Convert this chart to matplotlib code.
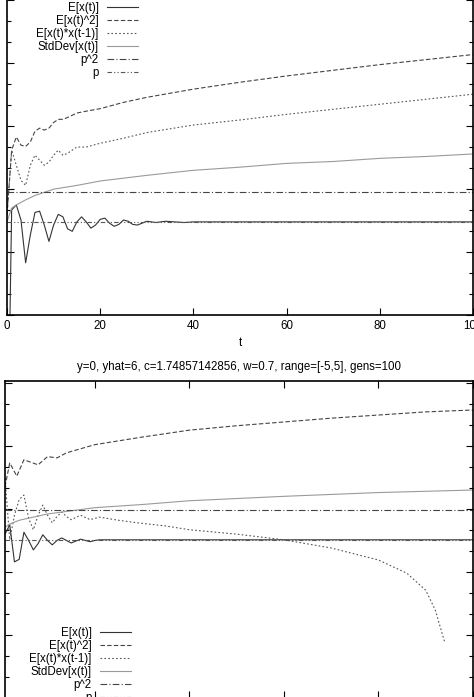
import matplotlib
matplotlib.use("Agg")
import matplotlib.pyplot as plt
from matplotlib.ticker import MultipleLocator

plt.rcParams["font.family"] = ["Liberation Sans", "DejaVu Sans"]
plt.rcParams["font.size"] = 8.3

labels = ["E[x(t)]", "E[x(t)^2]", "E[x(t)*x(t-1)]", "StdDev[x(t)]", "p^2", "p"]
colors = ["#333333", "#444444", "#555555", "#9a9a9a", "#444444", "#555555"]
styles = ["-", (0, (4, 2)), (0, (1.5, 2)), "-", (0, (6, 2, 1, 2)), (0, (4, 2, 1, 2, 1, 2))]

# top run
t_mean_a = list(range(0, 31)) + [32, 34, 36, 38, 40, 50, 100]
mean_a = [-3.0, 1.67, 1.75, 1.51, 0.83, 1.27, 1.63, 1.65, 1.43, 1.17, 1.43, 1.60, 1.56, 1.37,
          1.33, 1.48, 1.56, 1.48, 1.38, 1.43, 1.52, 1.54, 1.46, 1.41, 1.44, 1.51, 1.49, 1.44,
          1.43, 1.46, 1.49, 1.47, 1.49, 1.48, 1.47, 1.48, 1.48, 1.48]
t_sq_a = [0, 1, 2, 3, 4, 5, 6, 7, 8, 9, 10, 11, 12, 13, 15, 17, 20, 25, 30, 40, 50, 60, 70, 80, 90, 100]
sq_a = [1.59, 2.62, 2.83, 2.70, 2.68, 2.75, 2.92, 2.97, 2.94, 2.97, 3.06, 3.11, 3.11, 3.14,
        3.21, 3.24, 3.28, 3.38, 3.46, 3.59, 3.70, 3.80, 3.89, 3.98, 4.06, 4.14]
lag_a = [1.59, 2.62, 2.38, 2.14, 2.06, 2.38, 2.54, 2.46, 2.38, 2.43, 2.54, 2.62, 2.54, 2.57,
         2.67, 2.67, 2.73, 2.81, 2.90, 3.02, 3.10, 3.19, 3.27, 3.35, 3.43, 3.51]
t_sd_a = [0, 1, 2, 4, 6, 8, 10, 15, 20, 30, 40, 50, 60, 70, 80, 90, 100]
sd_a = [1.48, 1.70, 1.75, 1.83, 1.90, 1.95, 2.00, 2.06, 2.13, 2.22, 2.30, 2.35, 2.41, 2.44,
        2.49, 2.52, 2.56]
p2_a, p_a = 1.95, 1.48

# bottom run
t_mean_b = list(range(1, 22)) + [25, 100]
mean_b = [2.60, 2.75, 2.16, 2.20, 2.63, 2.50, 2.35, 2.45, 2.59, 2.50, 2.43, 2.50, 2.54, 2.50,
          2.46, 2.49, 2.52, 2.50, 2.48, 2.50, 2.51, 2.51, 2.51]
t_sq_b = [1, 2, 3.5, 5, 8, 10, 12, 14, 20, 30, 40, 50, 60, 70, 80, 90, 100]
sq_b = [3.35, 3.73, 3.52, 3.78, 3.70, 3.83, 3.81, 3.89, 4.02, 4.14, 4.25, 4.32, 4.38, 4.44,
        4.49, 4.54, 4.57]
t_lag_b = [1, 2, 3, 4, 5, 6, 7, 8, 9, 10, 11, 12, 13, 14, 15, 17, 19, 21, 25, 29, 35, 40,
           50, 60, 70, 80, 86, 90, 92, 94]
lag_b = [3.49, 2.51, 2.90, 3.15, 3.22, 2.85, 2.67, 2.90, 3.06, 2.90, 2.78, 2.88, 2.95, 2.88,
         2.83, 2.90, 2.83, 2.87, 2.82, 2.78, 2.73, 2.67, 2.60, 2.51, 2.38, 2.19, 1.98, 1.71,
         1.40, 0.89]
t_sd_b = [1, 2, 4, 7, 10, 15, 20, 30, 40, 60, 80, 100]
sd_b = [2.71, 2.76, 2.82, 2.87, 2.92, 2.97, 3.02, 3.07, 3.13, 3.20, 3.26, 3.30]
p2_b, p_b = 2.98, 2.51

W, H = 474, 697
fig = plt.figure(figsize=(W / 100, H / 100), dpi=100)
ax1 = fig.add_axes([7 / W, 1 - 315 / H, 466 / W, 346 / H])
ax2 = fig.add_axes([5 / W, 1 - 698 / H, 468 / W, 317 / H])


def draw(ax, series, p2, p, x0, ylim):
    for (tt, vv), lab, c, ls in zip(series, labels[:4], colors[:4], styles[:4]):
        ax.plot(tt, vv, color=c, ls=ls, lw=0.8, label=lab)
    ax.axhline(p2, color=colors[4], ls=styles[4], lw=0.8, label=labels[4])
    ax.axhline(p, color=colors[5], ls=styles[5], lw=0.8, label=labels[5])
    ax.set_xlim(x0, 100)
    ax.set_ylim(*ylim)
    ax.xaxis.set_major_locator(MultipleLocator(20))
    ax.yaxis.set_major_locator(MultipleLocator(1))
    ax.yaxis.set_minor_locator(MultipleLocator(1 / 3))
    ax.tick_params(which="both", direction="in", top=True, right=True, labelleft=False)
    ax.tick_params(which="major", length=5, width=0.8)
    ax.tick_params(which="minor", length=3, width=0.8)
    for s in ax.spines.values():
        s.set_linewidth(1.2)


draw(ax1, [(t_mean_a, mean_a), (t_sq_a, sq_a), (t_sq_a, lag_a), (t_sd_a, sd_a)],
     p2_a, p_a, 0, (0, 5.5))
ax1.set_xlabel("t", labelpad=4)
leg_kw = dict(frameon=False, markerfirst=False, handlelength=2.7, handletextpad=0.7,
              labelspacing=0.08, borderpad=0, borderaxespad=0)
ax1.legend(loc="upper right", bbox_to_anchor=(138 / W, 1 - 2 / H),
           bbox_transform=fig.transFigure, **leg_kw)

draw(ax2, [(t_mean_b, mean_b), (t_sq_b, sq_b), (t_lag_b, lag_b), (t_sd_b, sd_b)],
     p2_b, p_b, 1, (0, 5.03))
ax2.set_title("y=0, yhat=6, c=1.74857142856, w=0.7, range=[-5,5], gens=100",
              fontsize=8.3, pad=8)
ax2.tick_params(labelbottom=False)
ax2.legend(loc="upper right", bbox_to_anchor=(131 / W, 1 - 627 / H),
           bbox_transform=fig.transFigure, **leg_kw)

fig.savefig("out.png", dpi=100)
